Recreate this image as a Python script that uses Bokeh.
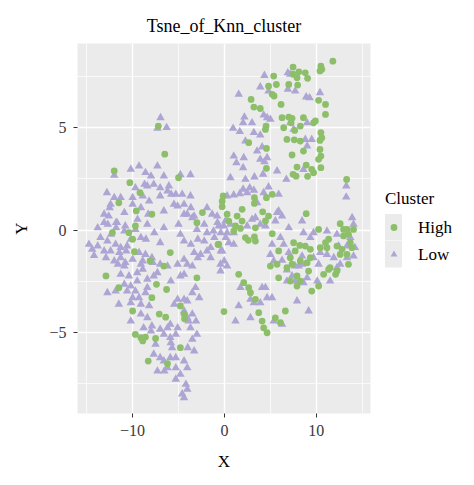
from bokeh.plotting import figure
from bokeh.models import FixedTicker, Legend, LegendItem, Range1d
from bokeh.embed import file_html
from bokeh.resources import INLINE

title_text = "Tsne_of_Knn_cluster"
x_label = "X"
y_label = "Y"
legend_title = "Cluster"
series_names = ["High", "Low"]
x_ticks = [-10, 0, 10]
x_minor = [-15, -5, 5, 15]
y_ticks = [-5, 0, 5]
y_minor = [-7.5, -2.5, 2.5, 7.5]
x_tick_labels = {-10: "\u221210", 0: "0", 10: "10"}
y_tick_labels = {-5: "\u22125", 0: "0", 5: "5"}

high_points = [
    (-7.2, 5.07), (-6.5, 3.7), (-12.0, 2.88), (-10.3, 2.31), (-11.5, 1.33), (-9.2, 1.82), (-5.0, 2.55),
    (-9.6, 0.93), (-7.9, 0.77), (-2.4, 0.85), (-3.0, 0.36), (-9.7, 0.2), (-12.2, -0.13), (-10.4, -0.13),
    (-10.0, -0.45), (-9.8, -1.06), (-8.1, -1.51), (-5.9, -1.1), (-3.0, -2.33), (-12.9, -2.24), (-11.5, -2.81),
    (-7.4, -2.65), (-6.3, -2.9), (-7.9, -3.3), (-10.0, -3.95), (-7.1, -4.1), (-6.4, -4.25), (-4.8, -3.7),
    (-4.4, -4.1), (-4.35, -4.33), (-9.7, -5.09), (-9.1, -5.25), (-8.9, -5.41), (-8.6, -5.22), (-7.5, -5.29),
    (-4.8, -5.74), (-8.3, -6.39), (-6.2, -6.52), (-0.7, -0.7), (-6.6, -1.76), (-0.05, -3.98),
    (11.8, 8.24), (10.5, 8.0), (10.4, 7.76), (10.6, 7.84), (7.47, 7.95), (8.1, 7.72), (8.8, 7.67), (9.05, 7.4),
    (5.36, 7.51), (5.65, 7.1), (4.8, 7.02), (5.2, 6.62), (5.4, 6.54), (6.16, 6.13), (7.97, 7.07), (7.0, 7.1),
    (7.9, 7.43), (7.47, 7.6), (2.9, 6.37), (3.2, 6.0), (3.9, 5.93), (10.25, 6.33), (11.0, 6.13), (11.0, 5.64),
    (6.27, 5.48), (7.0, 5.51), (7.36, 5.45), (7.25, 5.23), (6.45, 4.99), (7.65, 4.86), (8.26, 5.07), (8.6, 5.48),
    (9.7, 5.23), (9.9, 5.32), (10.5, 4.75), (10.6, 4.5), (10.4, 4.37), (4.53, 5.07), (4.46, 4.91), (6.8, 4.42),
    (8.26, 4.34), (7.6, 4.4), (2.64, 4.26), (4.57, 3.98), (8.6, 3.85), (10.4, 3.93), (10.5, 3.61), (10.25, 3.45),
    (7.36, 3.66), (4.57, 3.01), (7.9, 3.07), (8.9, 3.17), (9.5, 2.96), (9.7, 2.8), (9.05, 2.62), (10.5, 3.04),
    (7.47, 2.72), (7.8, 2.63), (13.3, 2.47),
    (-0.14, 1.66), (-0.25, 1.41), (-0.25, 1.14), (3.26, 1.58), (3.26, 1.3), (4.57, 1.58), (5.2, 1.74),
    (0.29, 0.77), (0.47, 0.44), (1.38, 0.68), (1.92, 0.44), (1.74, 0.08), (1.01, -0.05), (2.28, -0.37),
    (4.16, 0.89), (4.46, 0.44), (4.8, 0.68), (8.9, 0.8), (10.25, 0.03), (12.6, 0.31), (12.97, 0.03),
    (13.5, -0.21), (5.2, -0.18), (3.26, -0.33), (1.2, 0.2), (1.92, 1.01), (3.37, 0.11), (2.6, -0.5),
    (3.37, -0.54), (-0.62, -0.7), (5.9, -1.02), (7.53, -0.62), (8.2, -0.75), (9.35, -0.94), (11.0, -0.62),
    (11.34, -0.45), (11.16, -0.86), (10.43, -0.86), (13.34, 0.03), (14.05, 0.03), (12.97, -0.29),
    (12.8, -0.94), (12.6, -1.19), (13.34, -1.19), (13.88, -0.86), (13.5, -1.67), (7.17, -1.35), (8.26, -1.51),
    (9.0, -1.59), (12.25, -2.0), (11.34, -1.92), (10.8, -2.16), (10.25, -2.73), (9.5, -2.98), (5.0, -1.76),
    (5.73, -1.67), (6.8, -1.84), (7.36, -1.67), (7.9, -2.24), (9.16, -2.0), (8.26, -2.49), (5.9, -2.33),
    (1.55, -2.16), (2.1, -2.57), (2.64, -2.81), (2.83, -3.06), (6.63, -3.95), (4.1, -4.44), (4.27, -4.77),
    (4.64, -5.01), (3.73, -4.03), (5.54, -4.28), (6.09, -4.52), (7.7, -1.02), (8.8, -0.78), (9.35, -1.35),
    (11.5, -1.84), (13.7, -0.62), (12.25, -0.78), (12.1, -2.16), (7.17, -2.49), (7.9, -2.73), (3.37, -3.38),
]

low_points = [
    (-6.96, 5.48), (-6.3, 5.0), (-7.3, 4.96), (-12.0, 2.67), (-10.2, 2.96), (-9.3, 3.12), (-8.6, 2.8),
    (-8.0, 2.63), (-7.3, 3.12), (-6.6, 2.63), (-6.05, 2.15), (-8.4, 2.15), (-7.7, 2.23), (-7.0, 2.06),
    (-6.2, 1.9), (-12.8, 1.82), (-12.0, 1.58), (-10.0, 1.58), (-9.7, 2.06), (-8.9, 1.66), (-8.2, 1.41),
    (-7.0, 1.66), (-5.3, 1.74), (-4.6, 1.74), (-3.7, 1.66), (-4.8, 2.7), (-3.7, 2.7), (-12.4, 1.25),
    (-13.1, 0.36), (-12.6, 0.68), (-11.8, 0.36), (-10.0, 1.25), (-9.1, 1.09), (-6.6, 0.93), (-5.5, 1.25),
    (-4.4, 1.25), (-4.05, 0.77), (-3.3, 0.68), (-8.3, 0.77), (-0.8, 0.68), (-1.9, -0.13), (-1.2, -0.05),
    (-8.4, 0.28), (-6.6, 0.11), (-5.0, 0.28), (-4.8, -0.21), (-11.7, 0.36), (-10.8, 0.2), (-9.7, 0.03),
    (-3.0, 0.03), (-14.75, -0.7), (-14.4, -0.94), (-13.8, -0.78), (-13.5, -0.37), (-12.75, -0.54),
    (-12.4, -1.02), (-11.85, -0.7), (-11.3, -0.86), (-10.6, -0.78), (-10.2, -0.45), (-9.1, -0.37),
    (-9.3, -1.1), (-8.6, -1.19), (-7.9, -1.35), (-7.0, -0.62), (-12.9, -1.35), (-12.0, -1.51), (-11.3, -1.35),
    (-10.8, -1.59), (-10.0, -1.43), (-9.1, -1.67), (-11.3, -2.16), (-10.4, -2.24), (-9.5, -2.08),
    (-8.9, -1.92), (-12.75, -3.06), (-11.85, -2.98), (-10.6, -2.98), (-9.7, -2.98), (-11.5, -3.62),
    (-10.2, -3.55), (-9.3, -3.3), (-8.4, -2.81), (-8.6, -3.06), (-9.1, -3.62), (-8.2, -3.7), (-10.0, -3.3),
    (-9.1, -4.1), (-8.4, -4.28), (-8.8, -4.77), (-7.9, -4.68), (-7.0, -4.84), (-7.5, -5.58), (-7.7, -6.06),
    (-7.0, -6.23), (-6.6, -6.39), (-7.3, -6.88), (-5.9, -6.23), (-5.3, -6.72), (-4.4, -6.39), (-4.05, -6.72),
    (-4.8, -7.04), (-4.2, -7.53), (-4.05, -7.77), (-4.6, -8.0), (-4.4, -8.18), (-6.2, -6.72), (-6.6, -5.09),
    (-5.9, -5.25), (-5.1, -4.77), (-3.7, -4.77), (-3.0, -5.09), (-4.05, -4.28), (-3.5, -4.1), (-4.05, -3.46),
    (-5.1, -3.38), (-3.5, -3.06), (-4.4, -3.95), (-3.9, -4.44), (-5.9, -4.6), (-5.3, -5.09), (-5.7, -5.74),
    (-5.3, -6.23), (-5.1, -1.67), (-4.05, -1.67), (-4.8, -2.24), (-3.3, -1.1), (-2.6, -1.19), (-1.9, -1.02),
    (-7.0, -1.67), (-7.3, -2.08), (-8.4, -2.4), (-7.7, -2.24), (-6.2, -1.76), (-3.15, -2.81), (-4.4, -2.16),
    (-9.5, -2.49), (-14.2, -1.25), (-13.1, -1.02), (-11.45, -1.1), (-11.6, -1.67), (-10.9, -1.76),
    (-10.7, -1.02), (-8.55, -0.45), (-8.9, -1.51), (-7.8, -1.59), (-12.5, 1.09), (-11.3, 1.58), (-10.9, 0.85),
    (-8.7, 2.23), (-5.8, 1.74), (-5.1, 1.17), (-3.66, 1.09), (-4.4, 0.77), (-3.5, 0.6), (-2.2, 0.28),
    (-0.76, 0.36), (-0.4, -0.13), (0.14, -0.37), (-13.1, 0.77), (-13.8, 0.11), (-12.7, 0.28), (-11.8, 0.11),
    (-10.9, -0.05), (-12.35, -0.21), (-9.46, 0.52), (-7.64, -0.13), (-4.4, -0.54), (-3.66, -0.7),
    (-2.9, -0.45), (-2.2, -0.54), (-1.5, -0.86), (-1.1, -0.37), (-0.4, -1.02), (-1.5, -1.35), (-2.9, -1.35),
    (-0.03, -1.51), (-4.4, -1.43), (-3.5, -1.76), (-10.9, -2.65), (-10.2, -2.73), (-5.84, -2.49),
    (-4.4, -3.38), (-2.75, -3.3), (-5.47, -3.62), (-3.1, -4.44), (-10.2, -4.44), (-8.0, -4.93), (-6.2, -4.77),
    (-3.5, -5.33), (-5.84, -5.5), (-4.0, -5.74), (-3.3, -5.9), (-6.55, -6.88), (-5.3, -7.28),
    (4.35, 7.54), (6.9, 7.67), (7.17, 7.6), (3.9, 6.98), (4.8, 6.78), (6.9, 6.86), (7.7, 6.78), (1.55, 6.62),
    (8.9, 6.49), (9.27, 6.45), (10.4, 6.7), (2.17, 5.51), (4.27, 5.61), (4.64, 5.48), (5.0, 5.4), (3.0, 5.23),
    (2.03, 5.23), (0.94, 4.96), (1.67, 4.8), (3.2, 4.75), (3.9, 4.63), (7.17, 5.23), (9.0, 5.23), (8.8, 4.42),
    (9.5, 4.42), (9.0, 4.1), (2.28, 4.34), (3.55, 3.85), (4.1, 4.05), (1.01, 3.61), (2.1, 3.53), (1.3, 3.28),
    (2.03, 3.04), (3.9, 3.45), (4.64, 3.53), (4.35, 3.33), (0.65, 2.55), (2.28, 2.47), (3.26, 2.59),
    (4.2, 2.72), (5.73, 2.88), (6.74, 2.47), (2.03, 1.99), (2.75, 2.06), (3.2, 1.94), (4.8, 2.1),
    (13.26, 2.15), (13.26, 1.61), (0.29, 1.66), (1.01, 1.71), (1.67, 1.77), (2.47, 1.82), (4.27, 1.82),
    (5.9, 1.74), (3.55, 1.33), (-1.9, 1.09), (-1.34, 0.77), (-0.62, 0.2), (0.1, 0.44), (0.65, 0.28),
    (0.29, -0.13), (2.47, 0.2), (3.37, 0.6), (4.46, 0.2), (5.9, 0.93), (6.27, 0.68), (7.0, 0.11), (8.45, 0.44),
    (8.6, -0.13), (9.7, -0.13), (12.25, -0.21), (13.9, 0.6), (14.05, 0.28), (7.53, 4.91), (8.6, 2.95),
    (5.18, -0.7), (6.45, -0.7), (6.09, -0.37), (7.0, -1.1), (8.45, -1.27), (8.08, -1.76), (9.7, -1.35),
    (10.25, -1.67), (11.16, -1.19), (11.9, -1.35), (12.6, -1.67), (13.34, -1.35), (14.05, -1.27),
    (12.43, -0.78), (11.16, -0.05), (6.27, -1.48), (5.0, -1.19), (9.0, -2.33), (8.6, -2.57), (6.8, -2.49),
    (7.7, -2.49), (10.1, -2.49), (11.5, -2.49), (4.1, -2.81), (4.46, -2.81), (5.18, -3.3), (4.64, -3.3),
    (2.83, -3.38), (1.74, -2.81), (1.55, -3.7), (1.2, -4.44), (2.83, -4.28), (5.36, -4.44), (6.27, -4.6),
    (7.9, -3.46), (9.16, -3.95), (-0.43, -1.67), (0.29, -1.76), (-0.08, 0.2), (1.01, -0.7), (9.35, -0.37),
    (10.43, -1.1), (12.25, -1.84), (13.7, -0.37), (13.34, -0.78), (14.2, -0.86), (5.36, -1.51), (6.8, -1.95),
    (7.7, -1.76), (8.45, -1.67), (7.36, -2.24), (-0.25, -1.02), (-0.43, -2.0), (1.01, -0.13), (0.47, -0.62),
    (5.73, 0.85), (5.54, 0.44), (3.0, 0.52), (3.9, 0.28), (3.2, -3.55), (3.9, -3.55),
]

high_x = [pt[0] for pt in high_points]
high_y = [pt[1] for pt in high_points]
low_x = [pt[0] for pt in low_points]
low_y = [pt[1] for pt in low_points]

FONT = "Liberation Serif"
GREEN = "#8DBF6A"
PURPLE = "#ADA5D3"
PANEL = "#EBEBEB"

p = figure(
    frame_width=293, frame_height=370,
    x_range=Range1d(-16.0, 15.9), y_range=Range1d(-8.95, 9.1),
    min_border_left=77, min_border_right=98, min_border_top=43, min_border_bottom=64,
    output_backend="svg", toolbar_location=None, title=title_text,
)
p.background_fill_color = PANEL
p.border_fill_color = "white"
p.outline_line_color = None

p.title.align = "center"
p.title.text_font = FONT
p.title.text_font_size = "18px"
p.title.text_font_style = "normal"
p.title.text_color = "black"
p.title.standoff = 16

p.xaxis.ticker = FixedTicker(ticks=x_ticks, minor_ticks=x_minor)
p.yaxis.ticker = FixedTicker(ticks=y_ticks, minor_ticks=y_minor)
p.xaxis.major_label_overrides = x_tick_labels
p.yaxis.major_label_overrides = y_tick_labels
p.xaxis.axis_label = x_label
p.yaxis.axis_label = y_label

for ax in (p.xaxis[0], p.yaxis[0]):
    ax.axis_line_color = None
    ax.major_tick_line_color = "#333333"
    ax.major_tick_line_width = 1
    ax.major_tick_in = 0
    ax.major_tick_out = 4
    ax.minor_tick_line_color = None
    ax.major_label_text_font = FONT
    ax.major_label_text_font_size = "16px"
    ax.major_label_text_color = "#3a3a3a"
    ax.major_label_standoff = 7
    ax.axis_label_text_font = FONT
    ax.axis_label_text_font_size = "17px"
    ax.axis_label_text_font_style = "normal"
    ax.axis_label_text_color = "black"
    ax.axis_label_standoff = 13
p.yaxis.axis_label_standoff = 15

p.grid.grid_line_color = "white"
p.grid.grid_line_width = 1.4
p.grid.minor_grid_line_color = "white"
p.grid.minor_grid_line_width = 0.7

r_low = p.scatter(low_x, low_y, marker="triangle", size=8.5, fill_color=PURPLE, line_color=None)
r_high = p.scatter(high_x, high_y, marker="circle", size=6.8, fill_color=GREEN, line_color=None)
# helper renderer with no visible data: only draws the grey key background in the legend
key_bg = p.line([float("nan")], [float("nan")], line_color=PANEL, line_width=27, line_cap="square")

legend = Legend(
    items=[LegendItem(label=series_names[0], renderers=[key_bg, r_high]),
           LegendItem(label=series_names[1], renderers=[key_bg, r_low])],
    title=legend_title, location="center_left", orientation="vertical",
    glyph_width=17, glyph_height=27, label_height=27, spacing=0, padding=0, margin=15,
    label_standoff=16, title_standoff=5,
    border_line_color=None, background_fill_alpha=0,
    label_text_font=FONT, label_text_font_size="17px", label_text_color="black",
    title_text_font=FONT, title_text_font_size="17px", title_text_font_style="normal",
    title_text_color="black",
)
p.add_layout(legend, "right")

open("out.html", "w").write(file_html(p, INLINE, title=title_text))
